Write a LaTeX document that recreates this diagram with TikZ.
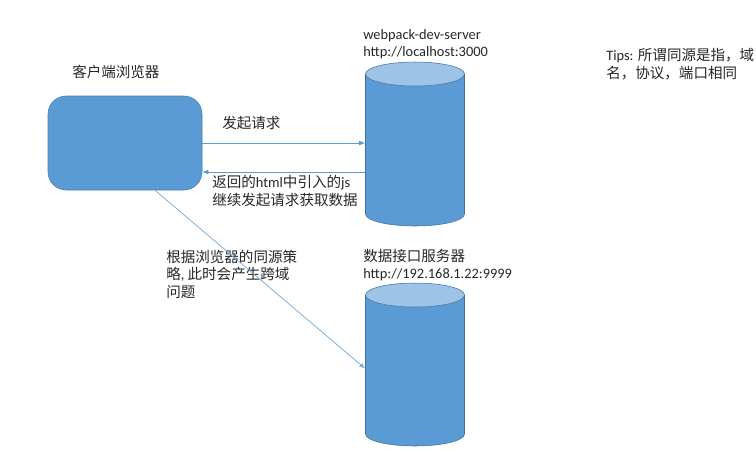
\documentclass[tikz,border=0pt]{standalone}
\usepackage{fontspec}
\setmainfont{Carlito}
\newfontfamily\cjk{Noto Sans CJK SC}[Scale=1.01]
\usetikzlibrary{arrows.meta, positioning, shapes.geometric}
\definecolor{boxblue}{HTML}{5B9BD5}
\definecolor{topblue}{HTML}{9DC3E6}
\definecolor{edgeblue}{HTML}{41719C}
\tikzset{
    client box/.style={draw=edgeblue!70!boxblue, fill=boxblue, rounded corners=13.5pt, minimum width=115.5pt, minimum height=70.5pt, inner sep=0pt},
    server/.style={cylinder, anchor=shape center, shape border rotate=90, draw=edgeblue, cylinder uses custom fill, cylinder body fill=boxblue, cylinder end fill=topblue, shape aspect=0.2425, text width=74.25pt, minimum width=74.25pt, inner sep=0pt},
    lbl/.style={anchor=west, inner sep=0pt, align=left, font=\fontsize{10.8pt}{13.1pt}\selectfont, text=black!85},
    flow/.style={draw=boxblue, line width=0.6pt, -{Latex[length=4.5pt,width=3.6pt]}}
}
\begin{document}
\begin{tikzpicture}[x=0.75pt, y=-0.75pt]
    \useasboundingbox (0,0) rectangle (756,455);

    \node[client box] (client) at (125,143) {};
    \node[server, minimum height=123pt] (devserver) at (415,144) {};
    \node[server, minimum height=122.25pt] (apiserver) at (415,364.5) {};

    \node[lbl] (clientname) at (72,72) {\cjk 客户端浏览器};
    \node[lbl] (devname) at (363,44) {webpack-dev-server\\http://localhost:3000};
    \node[lbl] (apiname) at (363,265) {{\cjk 数据接口服务器}\\http://192.168.1.22:9999};
    \node[lbl] (tips) at (606,64) {Tips: {\cjk 所谓同源是指，域}\\{\cjk 名，协议，端口相同}};
    \node[lbl] (request) at (222,123) {\cjk 发起请求};
    \node[lbl] (reply) at (212,191) {{\cjk 返回的}html{\cjk 中引入的}js\\{\cjk 继续发起请求获取数据}};
    \node[lbl] (policy) at (166,274) {{\cjk 根据浏览器的同源策}\\{\cjk 略}, {\cjk 此时会产生跨域}\\{\cjk 问题}};

    \coordinate (backstart) at ([yshift=-21.75pt]client.east -| devserver.west);
    \draw[flow] (client.east) -- (client.east -| devserver.west);
    \draw[flow] (backstart) -- (backstart -| client.east);
    \draw[flow, draw=boxblue!80!white] ([xshift=22.5pt]client.south) -- ([yshift=1.5pt]apiserver.west);
\end{tikzpicture}
\end{document}
